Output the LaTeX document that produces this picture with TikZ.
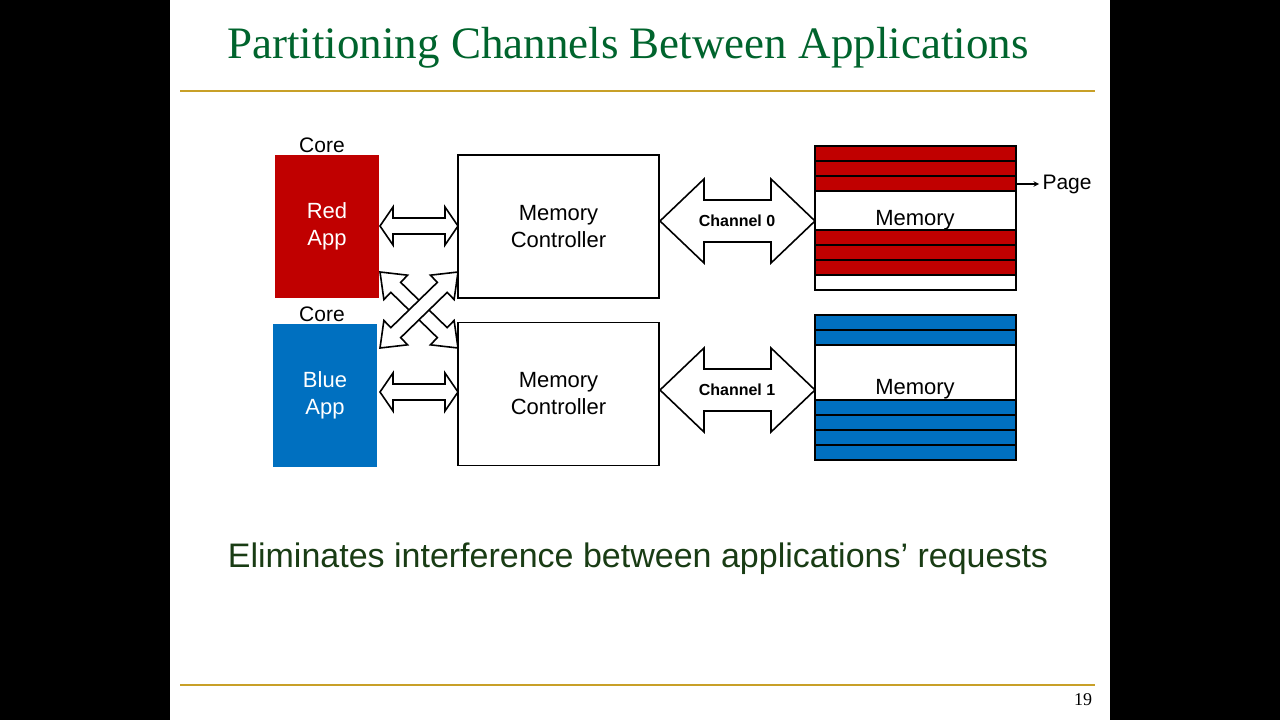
\documentclass[tikz,border=0pt]{standalone}
\usepackage{fontspec}
\setmainfont{Liberation Sans}
\newfontfamily\titlefont{Liberation Serif}
\usetikzlibrary{calc}
\definecolor{titlegreen}{RGB}{0,100,45}
\definecolor{textgreen}{RGB}{25,60,20}
\definecolor{rulegold}{RGB}{200,160,40}
\definecolor{appred}{RGB}{192,0,0}
\definecolor{appblue}{RGB}{0,112,192}
\tikzset{
  core/.style={minimum width=104pt, minimum height=143pt, inner sep=0pt,
    text=white, align=center, font=\fontsize{22}{27}\selectfont},
  ctrl/.style={draw, line width=1.6pt, minimum width=201pt, minimum height=143pt,
    align=center, font=\fontsize{22}{27}\selectfont},
  mem/.style={draw, line width=1.6pt, minimum width=201pt, minimum height=144pt, inner sep=0pt},
  arrowbox/.style={draw, fill=white, line width=1.6pt, line join=miter},
  lbl/.style={font=\fontsize{21}{25}\selectfont},
}
% block arrow: from, to, head half width, shaft half width, head length
\newcommand\blockarrow[5]{%
  \path[arrowbox] (#1)
    -- ($(#1)!#5!(#2)!#3!90:(#2)$) -- ($(#1)!#5!(#2)!#4!90:(#2)$)
    -- ($(#2)!#5!(#1)!#4!-90:(#1)$) -- ($(#2)!#5!(#1)!#3!-90:(#1)$)
    -- (#2)
    -- ($(#2)!#5!(#1)!#3!90:(#1)$) -- ($(#2)!#5!(#1)!#4!90:(#1)$)
    -- ($(#1)!#5!(#2)!#4!-90:(#2)$) -- ($(#1)!#5!(#2)!#3!-90:(#2)$)
    -- cycle;}
\begin{document}
\begin{tikzpicture}[x=1pt,y=-1pt]
  \useasboundingbox (0,0) rectangle (1280,720);
  \fill[black] (0,0) rectangle (1280,720);
  \fill[white] (170,0) rectangle (1110,720);
  % title and rules
  \node[text=titlegreen, font=\titlefont\fontsize{45}{50}\selectfont] (title) at (628,48) {Partitioning Channels Between Applications};
  \draw[rulegold, line width=1.3pt] (180,91) -- (1095,91);
  \draw[rulegold, line width=1.3pt] (180,685) -- (1095,685);
  \node[font=\titlefont\fontsize{18}{20}\selectfont] (num) at (1083,700) {19};

  % cores
  \node[core, fill=appred] (red) at (327,226.5) {Red\\App};
  \node[core, fill=appblue] (blue) at (325,395) {Blue\\App};
  \node[lbl] at (322,145) {Core};
  \node[lbl] at (322,314) {Core};

  % controllers
  \node[ctrl] (mc0) at (558.5,226.5) {Memory\\Controller};
  \node[ctrl] (mc1) at (558.5,394) {Memory\\Controller};

  % memories
  \node[mem] (mem0) at (915.5,218) {};
  \node[mem] (mem1) at (915.5,387.5) {};
  \foreach \y in {146,161,176,230,245,260}
    \draw[fill=appred, line width=1.6pt] (815,\y) rectangle (1016,\y+15);
  \foreach \y in {315,330,400,415,430,445}
    \draw[fill=appblue, line width=1.6pt] (815,\y) rectangle (1016,\y+15);
  \node[font=\fontsize{22}{27}\selectfont] at (915,220) {Memory};
  \node[font=\fontsize{22}{27}\selectfont] at (915,389) {Memory};
  \coordinate (pg) at (1016,184);
  \node[lbl, anchor=west] (page) at (1039,184) {Page};
  \draw[-stealth, line width=1.4pt] (pg) -- (page.west);

  % core to controller arrows
  \coordinate (r1) at (380,226); \coordinate (c1) at (458,226);
  \coordinate (b1) at (380,392); \coordinate (c2) at (458,392);
  \blockarrow{r1}{c1}{19pt}{8pt}{13pt}
  \blockarrow{b1}{c2}{19pt}{8pt}{13pt}
  \coordinate (x1) at (380,272); \coordinate (x2) at (458,348);
  \coordinate (x3) at (380,348); \coordinate (x4) at (458,272);
  \blockarrow{x1}{x2}{17pt}{7pt}{22pt}
  \blockarrow{x3}{x4}{17pt}{7pt}{22pt}

  % channels
  \coordinate (ch0a) at (660,221); \coordinate (ch0b) at (815,221);
  \coordinate (ch1a) at (660,390); \coordinate (ch1b) at (815,390);
  \blockarrow{ch0a}{ch0b}{42pt}{21pt}{44pt}
  \blockarrow{ch1a}{ch1b}{42pt}{21pt}{44pt}
  \node[font=\bfseries\fontsize{16}{20}\selectfont] at (737,221) {Channel 0};
  \node[font=\bfseries\fontsize{16}{20}\selectfont] at (737,390) {Channel 1};

  % takeaway
  \node[text=textgreen, font=\fontsize{34}{40}\selectfont] (msg) at (638,559) {Eliminates interference between applications’ requests};
\end{tikzpicture}
\end{document}
